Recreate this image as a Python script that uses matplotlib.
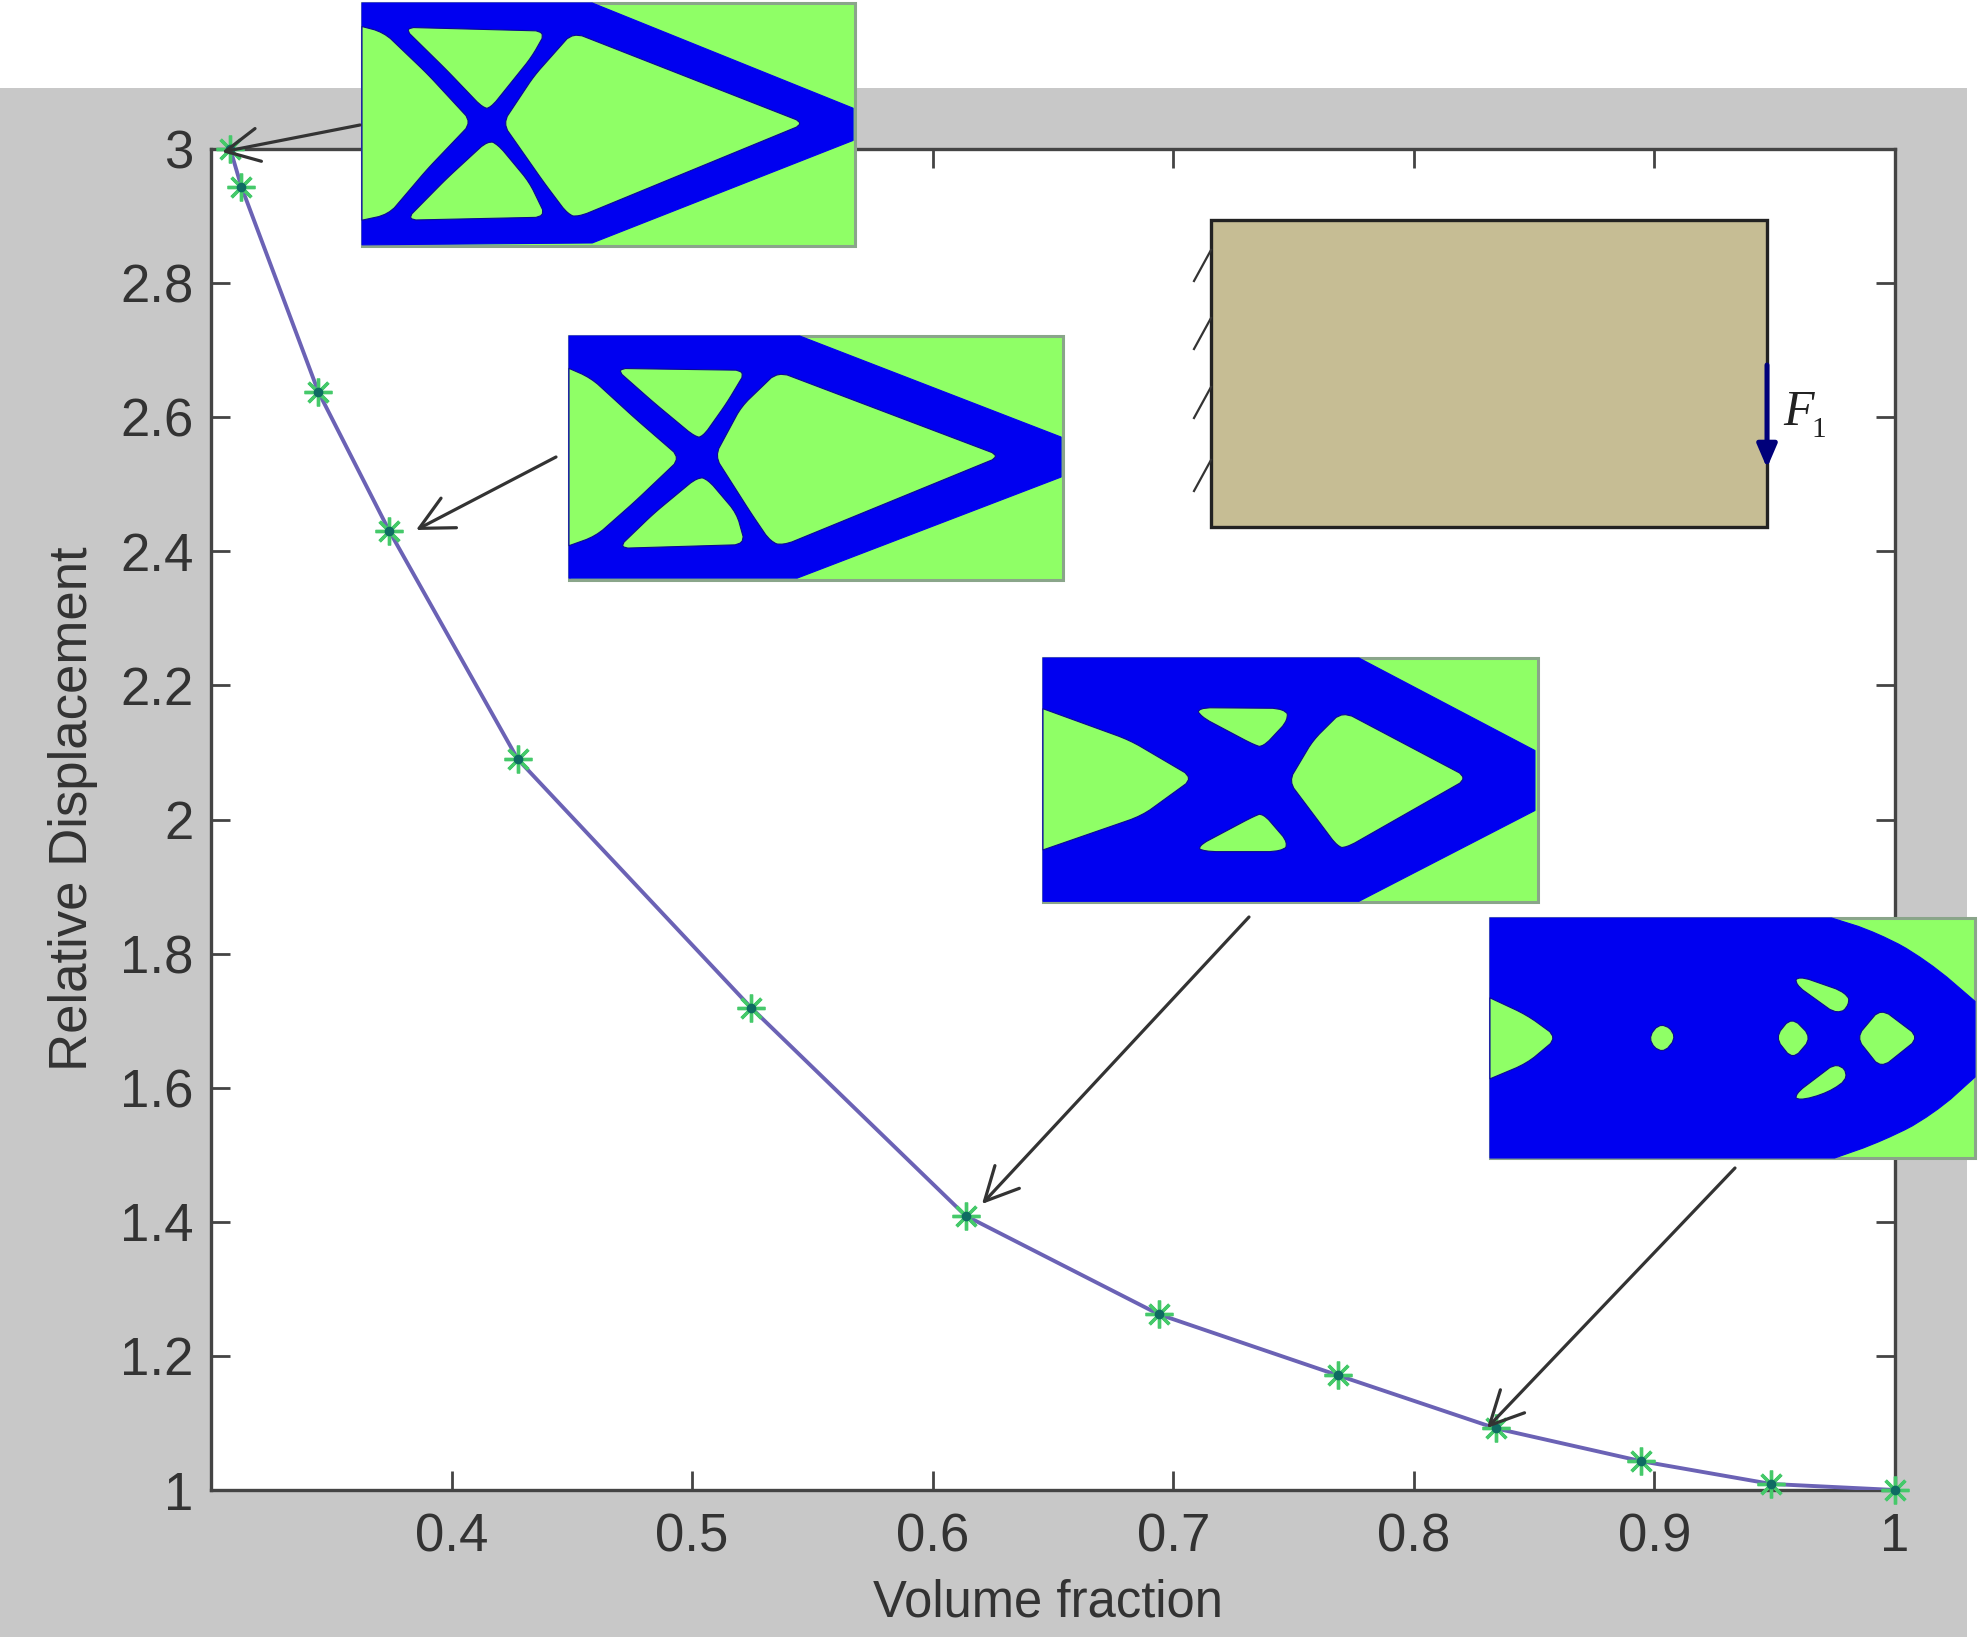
import math
import matplotlib
matplotlib.use('Agg')
import matplotlib.pyplot as plt
from matplotlib.patches import Rectangle, Polygon

plt.rcParams['font.family'] = ['Liberation Sans', 'DejaVu Sans']

# Curve
volume = [0.308, 0.3126, 0.3446, 0.374, 0.4275, 0.5246, 0.6137, 0.694, 0.7685, 0.834, 0.8945, 0.9485, 1.0]
displacement = [3.0, 2.944, 2.638, 2.431, 2.09, 1.719, 1.409, 1.262, 1.171, 1.092, 1.043, 1.009, 1.0]

xticks = [0.4, 0.5, 0.6, 0.7, 0.8, 0.9, 1.0]
xticklabels = ['0.4', '0.5', '0.6', '0.7', '0.8', '0.9', '1']
yticks = [1.0, 1.2, 1.4, 1.6, 1.8, 2.0, 2.2, 2.4, 2.6, 2.8, 3.0]
yticklabels = ['1', '1.2', '1.4', '1.6', '1.8', '2', '2.2', '2.4', '2.6', '2.8', '3']

W, H = 1980, 1637
GREEN = '#8fff66'
BLUE = '#0000f0'
TEXT = '#333333'


# Cut polygon corners by a fixed distance so the traced shapes come out rounded
def smooth(pts, closed=True, dist=14, passes=2):
    for _ in range(passes):
        out = []
        n = len(pts)
        for i in range(n if closed else n - 1):
            (x0, y0), (x1, y1) = pts[i], pts[(i + 1) % n]
            cut = min(0.3, dist / max(math.hypot(x1 - x0, y1 - y0), 1e-6))
            out.append((x0 + cut * (x1 - x0), y0 + cut * (y1 - y0)))
            out.append((x1 - cut * (x1 - x0), y1 - cut * (y1 - y0)))
        if not closed:
            out = [pts[0]] + out + [pts[-1]]
        pts = out
        dist = dist / 2
    return pts


# Outlines of the topology insets, traced, with the box they were traced in.
# The first hole of each inset touches the left edge of the box.
box1 = (45, 8, 1062, 648)
solid1 = [(45, 8), (520, 8), (1058, 285), (1058, 370), (520, 640), (45, 645)]
holes1 = [
    [(45, 70), (90, 85), (180, 195), (272, 322), (180, 445), (100, 565), (45, 580)],
    [(130, 72), (425, 82), (395, 150), (310, 285), (295, 285), (220, 185)],
    [(305, 370), (325, 380), (390, 480), (425, 572), (135, 580), (220, 470)],
    [(480, 85), (960, 325), (490, 572), (470, 565), (420, 480), (335, 325), (400, 200)],
]

box2 = (475, 875, 1492, 1515)
solid2 = [(475, 875), (950, 875), (1488, 1140), (1488, 1245), (945, 1510), (475, 1510)]
holes2 = [
    [(475, 960), (520, 985), (610, 1090), (705, 1195), (610, 1310), (530, 1400), (475, 1425)],
    [(570, 960), (840, 965), (800, 1050), (750, 1140), (735, 1140), (650, 1050)],
    [(740, 1245), (760, 1250), (820, 1340), (838, 1422), (575, 1432), (650, 1340)],
    [(905, 968), (1365, 1190), (915, 1425), (890, 1415), (850, 1340), (775, 1190), (830, 1060)],
]

box3 = (38, 50, 848, 762)
solid3 = [(38, 50), (555, 50), (843, 320), (843, 495), (555, 760), (38, 760)]
holes3 = [
    [(38, 198), (180, 290), (285, 400), (200, 510), (38, 610)],
    [(290, 195), (435, 197), (440, 230), (398, 310), (385, 305), (295, 220)],
    [(398, 503), (440, 590), (430, 615), (300, 615), (290, 600), (385, 510)],
    [(528, 205), (735, 400), (533, 605), (520, 600), (440, 410), (480, 290)],
]

box4 = (770, 808, 1558, 1505)
curve4_top = [(1325, 808), (1400, 850), (1480, 930), (1558, 1050)]
curve4_bottom = [(1558, 1270), (1490, 1380), (1410, 1455), (1330, 1505)]
solid4 = ([(770, 808)] + smooth(curve4_top, closed=False, dist=40)
          + smooth(curve4_bottom, closed=False, dist=40) + [(770, 1505)])
holes4 = [
    [(770, 1040), (830, 1090), (880, 1155), (830, 1230), (770, 1275)],
    [(1048, 1108), (1075, 1150), (1050, 1205), (1025, 1160)],
    [(1260, 1095), (1293, 1155), (1262, 1220), (1233, 1155)],
    [(1405, 1070), (1468, 1155), (1405, 1245), (1365, 1155)],
    [(1270, 975), (1350, 1025), (1355, 1060), (1335, 1090), (1265, 1000)],
    [(1335, 1225), (1355, 1270), (1320, 1315), (1270, 1340), (1265, 1320)],
]

fig = plt.figure(figsize=(W / 100, H / 100), dpi=100, facecolor='white')

# Gray window behind everything
bg = fig.add_axes([0, 0, 1, 1], zorder=0)
bg.set_xlim(0, W)
bg.set_ylim(H, 0)
bg.axis('off')
bg.add_patch(Rectangle((0, 88), 1967, H - 88, facecolor='#c8c8c8', edgecolor='none'))

# Main curve
ax = fig.add_axes([211 / W, (H - 1490) / H, (1895 - 211) / W, (1490 - 149) / H], zorder=1)
ax.plot(volume, displacement, color='#6b62b5', lw=2.8, zorder=3)
ax.plot(volume, displacement, ls='none', marker=(8, 2, 0), ms=20, mew=2.4, color='#45c96a',
        clip_on=False, zorder=4)
ax.plot(volume, displacement, ls='none', marker='o', ms=7, color='#0f6b63', mew=0,
        clip_on=False, zorder=5)
ax.set_xlim(0.3, 1)
ax.set_ylim(1, 3)
ax.set_xticks(xticks)
ax.set_xticklabels(xticklabels)
ax.set_yticks(yticks)
ax.set_yticklabels(yticklabels)
ax.tick_params(direction='in', top=True, right=True, length=14, width=2, color='#444444',
               labelsize=38, labelcolor=TEXT)
ax.tick_params(axis='x', pad=16)
ax.tick_params(axis='y', pad=12.5)
for s in ax.spines.values():
    s.set_linewidth(2.4)
    s.set_color('#444444')
ax.set_xlabel('Volume fraction', fontsize=36.5, color=TEXT, labelpad=12, x=0.497)
ax.set_ylabel('Relative Displacement', fontsize=38, color=TEXT, labelpad=16, y=0.508)

# Overlay in pixel coordinates for the insets, arrows and load case sketch
ov = fig.add_axes([0, 0, 1, 1], zorder=2)
ov.set_xlim(0, W)
ov.set_ylim(H, 0)
ov.axis('off')


def draw_inset(box, solid, holes, left, top, right, bottom):
    x0, y0, x1, y1 = box

    def place(pts):
        return [(left + (x - x0) / (x1 - x0) * (right - left),
                 top + (y - y0) / (y1 - y0) * (bottom - top)) for x, y in pts]

    ov.add_patch(Rectangle((left, top), right - left, bottom - top, facecolor=GREEN,
                           edgecolor='#8aa58a', lw=2.2, zorder=2))
    ov.add_patch(Polygon(place(solid), closed=True, facecolor=BLUE, edgecolor=BLUE, lw=0.8, zorder=3))
    for i, h in enumerate(holes):
        outline = smooth(h, closed=i > 0)
        ov.add_patch(Polygon(place(outline), closed=True, facecolor=GREEN, edgecolor='#0a0a90', lw=0.8,
                             joinstyle='round', zorder=4))


draw_inset(box1, solid1, holes1, 362, 3, 855, 246)
draw_inset(box2, solid2, holes2, 569, 336, 1063, 580)
draw_inset(box3, solid3, holes3, 1043, 658, 1538, 902)
draw_inset(box4, solid4, holes4, 1490, 918, 1975, 1158)

# Arrows from the insets to the curve
arrows = [((360, 125), (222, 152)), ((556, 457), (416, 530)),
          ((1249, 917), (982, 1204)), ((1735, 1168), (1487, 1428))]
for start, end in arrows:
    ov.annotate('', xy=end, xytext=start, zorder=6,
                arrowprops=dict(arrowstyle='->,head_length=1.2,head_width=0.6', color='#333333',
                                lw=2.3, shrinkA=0, shrinkB=0, mutation_scale=20))

# Load case sketch
ov.add_patch(Rectangle((1211, 220), 556, 307, facecolor='#c6bd94', edgecolor='#222222', lw=2.4, zorder=2))
for y in [250, 318, 387, 460]:
    ov.plot([1211, 1194], [y, y + 31], color='#333333', lw=1.6, zorder=3)
ov.annotate('', xy=(1767, 468), xytext=(1767, 365), zorder=4,
            arrowprops=dict(arrowstyle='-|>,head_length=0.7,head_width=0.3', color='#00007a',
                            lw=3.6, shrinkA=0, shrinkB=0, mutation_scale=20))
ov.text(1783, 425, 'F', family='Liberation Serif', style='italic', fontsize=36, color='#222222',
        ha='left', va='baseline', zorder=4)
ov.text(1811, 437, '1', family='Liberation Serif', fontsize=21, color='#222222',
        ha='left', va='baseline', zorder=4)

fig.savefig('out.png', dpi=100)
